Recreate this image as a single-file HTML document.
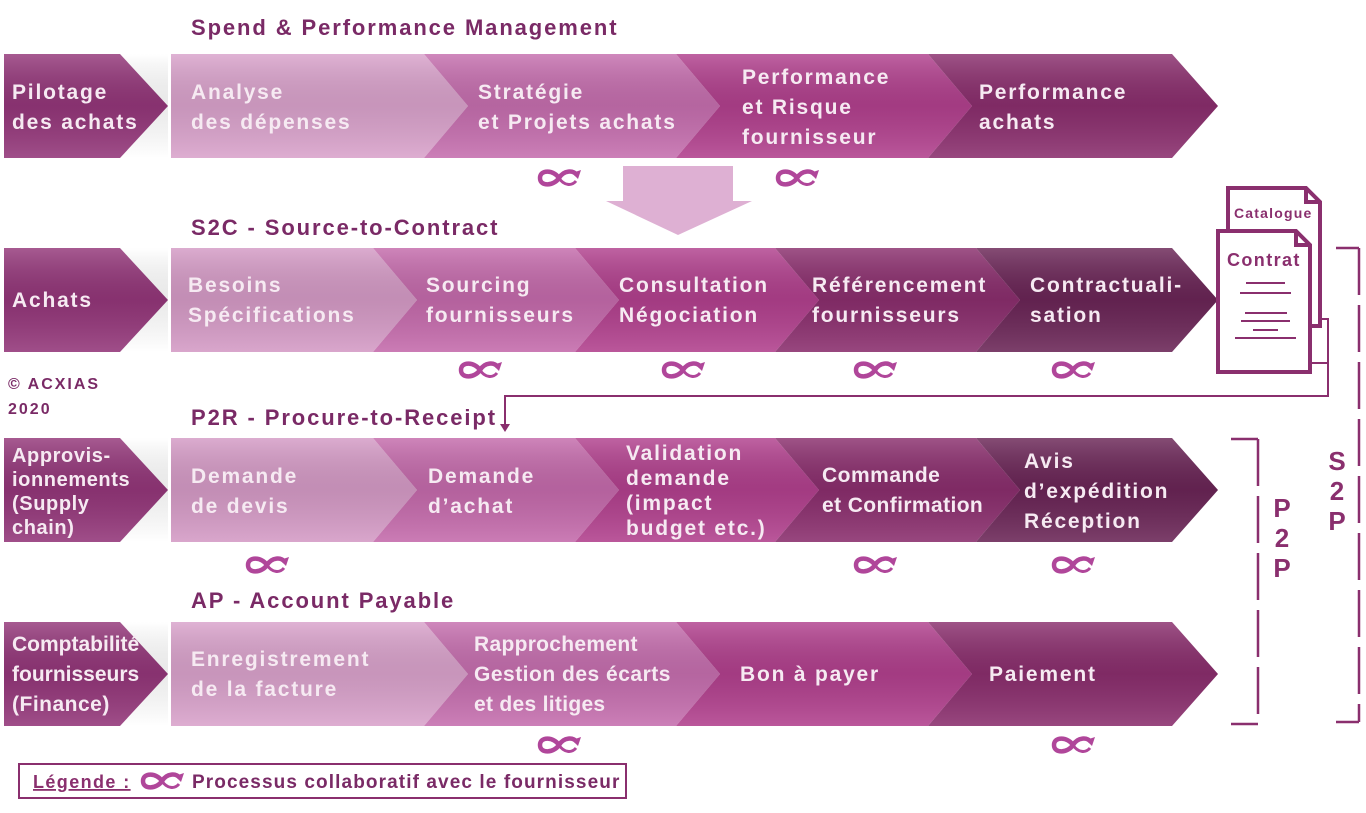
<!DOCTYPE html>
<html><head><meta charset="utf-8"><style>
html,body{margin:0;padding:0;background:#fff;}
svg text{font-family:"Liberation Sans",Arial,sans-serif;font-weight:bold;}
.w{fill:#f6eaf2;font-size:21px;letter-spacing:1.8px;}
.h{fill:#7a2a66;font-size:22px;letter-spacing:1.9px;}
</style></head><body>
<svg width="1366" height="808" viewBox="0 0 1366 808" xmlns="http://www.w3.org/2000/svg">
<defs>
<linearGradient id="sh" x1="0" y1="0" x2="0" y2="1">
<stop offset="0" stop-color="#fff" stop-opacity="0.18"/>
<stop offset="0.5" stop-color="#000" stop-opacity="0.08"/>
<stop offset="1" stop-color="#fff" stop-opacity="0.12"/>
</linearGradient>
<symbol id="inf" viewBox="0 0 46 22">
<path d="M23,11 C18,3 4,2 4,11 C4,20 18,19 23,11 C28,3 37,3 41,8" fill="none" stroke="#b0469a" stroke-width="4.5"/>
<path d="M23,11 C28,19 36,19 40,14" fill="none" stroke="#b0469a" stroke-width="3"/>
<path d="M36,6 L45,3 L42,12 Z" fill="#b0469a"/>
</symbol>
</defs>

<text class="h" x="191" y="35">Spend &amp; Performance Management</text>
<text class="h" x="191" y="235">S2C - Source-to-Contract</text>
<text class="h" x="191" y="425">P2R - Procure-to-Receipt</text>
<text class="h" x="191" y="608">AP - Account Payable</text>

<!-- Row 1 -->
<g>
<polygon points="4,54 120,54 168,106 120,158 4,158" fill="#933679"/>
<polygon points="171,54 424,54 468,106 424,158 171,158" fill="#d9a2cb"/>
<polygon points="424,54 676,54 720,106 676,158 424,158 468,106" fill="#c56eae"/>
<polygon points="676,54 928,54 972,106 928,158 676,158 720,106" fill="#b1408d"/>
<polygon points="928,54 1172,54 1218,106 1172,158 928,158 972,106" fill="#8a2e6d"/>
<polygon points="4,54 1172,54 1218,106 1172,158 4,158" fill="url(#sh)"/>
<rect x="168" y="54" width="3" height="104" fill="#fff"/>
<text class="w" x="12" y="99">Pilotage</text><text class="w" x="12" y="129">des achats</text>
<text class="w" x="191" y="99">Analyse</text><text class="w" x="191" y="129">des dépenses</text>
<text class="w" x="478" y="99">Stratégie</text><text class="w" x="478" y="129">et Projets achats</text>
<text class="w" x="742" y="84">Performance</text><text class="w" x="742" y="114">et Risque</text><text class="w" x="742" y="144">fournisseur</text>
<text class="w" x="979" y="99">Performance</text><text class="w" x="979" y="129">achats</text>
</g>
<use href="#inf" x="536" y="167" width="46" height="22"/>
<use href="#inf" x="774" y="167" width="46" height="22"/>
<polygon points="623,166 733,166 733,201 752,201 678,235 606,201 623,201" fill="#deb0d3"/>

<!-- Row 2 -->
<g>
<polygon points="4,248 120,248 168,300 120,352 4,352" fill="#933679"/>
<polygon points="171,248 373,248 417,300 373,352 171,352" fill="#d49ac5"/>
<polygon points="373,248 575,248 619,300 575,352 373,352 417,300" fill="#c46aab"/>
<polygon points="575,248 775,248 819,300 775,352 575,352 619,300" fill="#b1408d"/>
<polygon points="775,248 976,248 1020,300 976,352 775,352 819,300" fill="#8a2e6d"/>
<polygon points="976,248 1172,248 1218,300 1172,352 976,352 1020,300" fill="#6a2556"/>
<polygon points="4,248 1172,248 1218,300 1172,352 4,352" fill="url(#sh)"/>
<rect x="168" y="248" width="3" height="104" fill="#fff"/>
<text class="w" x="12" y="307">Achats</text>
<text class="w" x="188" y="292">Besoins</text><text class="w" x="188" y="322">Spécifications</text>
<text class="w" x="426" y="292">Sourcing</text><text class="w" x="426" y="322">fournisseurs</text>
<text class="w" x="619" y="292">Consultation</text><text class="w" x="619" y="322">Négociation</text>
<text class="w" x="812" y="292">Référencement</text><text class="w" x="812" y="322">fournisseurs</text>
<text class="w" x="1030" y="292">Contractuali-</text><text class="w" x="1030" y="322">sation</text>
</g>
<use href="#inf" x="457" y="359" width="46" height="22"/>
<use href="#inf" x="660" y="359" width="46" height="22"/>
<use href="#inf" x="852" y="359" width="46" height="22"/>
<use href="#inf" x="1050" y="359" width="46" height="22"/>

<text x="8" y="389" fill="#7a2a66" font-size="16" letter-spacing="2">© ACXIAS</text>
<text x="8" y="414" fill="#7a2a66" font-size="16" letter-spacing="2">2020</text>

<!-- Row 3 -->
<g>
<polygon points="4,438 120,438 168,490 120,542 4,542" fill="#933679"/>
<polygon points="171,438 373,438 417,490 373,542 171,542" fill="#d49ac5"/>
<polygon points="373,438 575,438 619,490 575,542 373,542 417,490" fill="#c46aab"/>
<polygon points="575,438 775,438 819,490 775,542 575,542 619,490" fill="#b1408d"/>
<polygon points="775,438 976,438 1020,490 976,542 775,542 819,490" fill="#8a2e6d"/>
<polygon points="976,438 1172,438 1218,490 1172,542 976,542 1020,490" fill="#6a2556"/>
<polygon points="4,438 1172,438 1218,490 1172,542 4,542" fill="url(#sh)"/>
<rect x="168" y="438" width="3" height="104" fill="#fff"/>
<text class="w" x="12" y="462" style="font-size:20px;letter-spacing:0.6px">Approvis-</text><text class="w" x="12" y="486" style="font-size:20px;letter-spacing:0.6px">ionnements</text><text class="w" x="12" y="510" style="font-size:20px;letter-spacing:0.6px">(Supply</text><text class="w" x="12" y="534" style="font-size:20px;letter-spacing:0.6px">chain)</text>
<text class="w" x="191" y="483">Demande</text><text class="w" x="191" y="513">de devis</text>
<text class="w" x="428" y="483">Demande</text><text class="w" x="428" y="513">d’achat</text>
<text class="w" x="626" y="460">Validation</text><text class="w" x="626" y="485">demande</text><text class="w" x="626" y="510">(impact</text><text class="w" x="626" y="535">budget etc.)</text>
<text class="w" x="822" y="482" style="letter-spacing:0.5px">Commande</text><text class="w" x="822" y="512" style="letter-spacing:0.4px">et Confirmation</text>
<text class="w" x="1024" y="468">Avis</text><text class="w" x="1024" y="498">d’expédition</text><text class="w" x="1024" y="528">Réception</text>
</g>
<use href="#inf" x="244" y="554" width="46" height="22"/>
<use href="#inf" x="852" y="554" width="46" height="22"/>
<use href="#inf" x="1050" y="554" width="46" height="22"/>

<!-- Row 4 -->
<g>
<polygon points="4,622 120,622 168,674 120,726 4,726" fill="#933679"/>
<polygon points="171,622 424,622 468,674 424,726 171,726" fill="#d9a2cb"/>
<polygon points="424,622 676,622 720,674 676,726 424,726 468,674" fill="#c56eae"/>
<polygon points="676,622 928,622 972,674 928,726 676,726 720,674" fill="#b1408d"/>
<polygon points="928,622 1172,622 1218,674 1172,726 928,726 972,674" fill="#8a2e6d"/>
<polygon points="4,622 1172,622 1218,674 1172,726 4,726" fill="url(#sh)"/>
<rect x="168" y="622" width="3" height="104" fill="#fff"/>
<text class="w" x="12" y="651" style="letter-spacing:0px">Comptabilité</text><text class="w" x="12" y="681" style="letter-spacing:0px">fournisseurs</text><text class="w" x="12" y="711" style="letter-spacing:0.5px">(Finance)</text>
<text class="w" x="191" y="666">Enregistrement</text><text class="w" x="191" y="696">de la facture</text>
<text class="w" x="474" y="651" style="letter-spacing:0.3px">Rapprochement</text><text class="w" x="474" y="681" style="letter-spacing:0.5px">Gestion des écarts</text><text class="w" x="474" y="711" style="letter-spacing:0.3px">et des litiges</text>
<text class="w" x="740" y="681">Bon à payer</text>
<text class="w" x="989" y="681">Paiement</text>
</g>
<use href="#inf" x="536" y="734" width="46" height="22"/>
<use href="#inf" x="1050" y="734" width="46" height="22"/>

<!-- Documents -->
<g fill="#fff" stroke="#8a2f6e" stroke-width="4">
<path d="M1228,188 L1306,188 L1320,202 L1320,326 L1228,326 Z"/>
<path d="M1306,188 L1306,202 L1320,202" fill="none"/>
<path d="M1218,231 L1296,231 L1310,245 L1310,372 L1218,372 Z"/>
<path d="M1296,231 L1296,245 L1310,245" fill="none"/>
</g>
<text x="1234" y="218" fill="#8a2f6e" font-size="14" letter-spacing="1.2">Catalogue</text>
<text x="1227" y="266" fill="#8a2f6e" font-size="18" letter-spacing="1.4">Contrat</text>
<g stroke="#8a2f6e" stroke-width="2">
<line x1="1246" y1="283" x2="1285" y2="283"/>
<line x1="1240" y1="293" x2="1291" y2="293"/>
<line x1="1245" y1="313" x2="1287" y2="313"/>
<line x1="1241" y1="321" x2="1290" y2="321"/>
<line x1="1253" y1="330" x2="1278" y2="330"/>
<line x1="1235" y1="338" x2="1296" y2="338"/>
</g>
<!-- connector -->
<g fill="none" stroke="#8a2f6e" stroke-width="2">
<polyline points="1320,319 1328,319 1328,396 505,396 505,426"/>
<line x1="1310" y1="363" x2="1328" y2="363"/>
</g>
<polygon points="500,424 510,424 505,432" fill="#8a2f6e"/>

<!-- brackets -->
<g fill="none" stroke="#8a2f6e" stroke-width="2.5">
<polyline points="1336,248 1359,248"/>
<line x1="1359" y1="248" x2="1359" y2="722" stroke-dasharray="47,10"/>
<polyline points="1336,722 1359,722"/>
<polyline points="1231,439 1258,439"/>
<line x1="1258" y1="439" x2="1258" y2="724" stroke-dasharray="47,10"/>
<polyline points="1231,724 1258,724"/>
</g>
<g fill="#8a2f6e" font-size="26" text-anchor="middle">
<text x="1337" y="470">S</text><text x="1337" y="500">2</text><text x="1337" y="530">P</text>
<text x="1282" y="517">P</text><text x="1282" y="547">2</text><text x="1282" y="577">P</text>
</g>

<!-- legend -->
<rect x="19" y="764" width="607" height="34" fill="none" stroke="#8a2f6e" stroke-width="2"/>
<text x="33" y="788" fill="#8a2f6e" font-size="18" letter-spacing="1.4" text-decoration="underline">Légende :</text>
<use href="#inf" x="139" y="770" width="46" height="22"/>
<text x="192" y="788" fill="#7a2a66" font-size="19" letter-spacing="1.1">Processus collaboratif avec le fournisseur</text>
</svg>
</body></html>
